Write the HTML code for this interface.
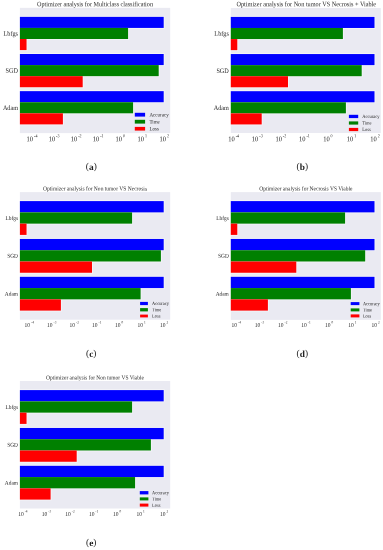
<!DOCTYPE html>
<html lang="en">
<head>
<meta charset="utf-8">
<title>Optimizer analysis</title>
<style>
html,body{margin:0;padding:0;background:#fff;}
body{width:383px;height:550px;overflow:hidden;}
svg{display:block;position:absolute;left:0;top:0;}
text{font-family:"Liberation Serif","DejaVu Serif",serif;fill:#262626;}
.cap{fill:#1a1a1a;}
</style>
</head>
<body>
<svg width="383" height="550" viewBox="0 0 383 550">
<rect x="0" y="0" width="383" height="550" fill="#ffffff"/>
<g id="chart-a">
<rect x="19.9" y="7.85" width="150.3" height="125.25" fill="#eaeaf2"/>
<text transform="translate(95 6.3) rotate(0.03) scale(1 1.09)" font-size="6.15" text-anchor="middle">Optimizer analysis for Multiclass classification</text>
<rect x="19.9" y="15.95" width="144.7" height="12.88" fill="#ffffff" fill-opacity="0.5"/>
<rect x="19.9" y="27.03" width="109.1" height="12.88" fill="#ffffff" fill-opacity="0.5"/>
<rect x="19.9" y="38.11" width="7.55" height="12.88" fill="#ffffff" fill-opacity="0.5"/>
<rect x="19.9" y="53.1" width="144.7" height="12.88" fill="#ffffff" fill-opacity="0.5"/>
<rect x="19.9" y="64.18" width="139.7" height="12.88" fill="#ffffff" fill-opacity="0.5"/>
<rect x="19.9" y="75.26" width="63.7" height="12.88" fill="#ffffff" fill-opacity="0.5"/>
<rect x="19.9" y="90.25" width="144.7" height="12.88" fill="#ffffff" fill-opacity="0.5"/>
<rect x="19.9" y="101.33" width="114.1" height="12.88" fill="#ffffff" fill-opacity="0.5"/>
<rect x="19.9" y="112.41" width="43.9" height="12.88" fill="#ffffff" fill-opacity="0.5"/>
<rect x="19.9" y="16.85" width="143.8" height="11.08" fill="#0000ff"/>
<rect x="19.9" y="27.93" width="108.2" height="11.08" fill="#008000"/>
<rect x="19.9" y="39.01" width="6.65" height="11.08" fill="#ff0000"/>
<text transform="translate(18 35.7) rotate(0.03) scale(1 1.09)" font-size="6.2" text-anchor="end">Lbfgs</text>
<rect x="19.9" y="54" width="143.8" height="11.08" fill="#0000ff"/>
<rect x="19.9" y="65.08" width="138.8" height="11.08" fill="#008000"/>
<rect x="19.9" y="76.16" width="62.8" height="11.08" fill="#ff0000"/>
<text transform="translate(18 72.85) rotate(0.03) scale(1 1.09)" font-size="6.2" text-anchor="end">SGD</text>
<rect x="19.9" y="91.15" width="143.8" height="11.08" fill="#0000ff"/>
<rect x="19.9" y="102.23" width="113.2" height="11.08" fill="#008000"/>
<rect x="19.9" y="113.31" width="43" height="11.08" fill="#ff0000"/>
<text transform="translate(18 110) rotate(0.03) scale(1 1.09)" font-size="6.2" text-anchor="end">Adam</text>
<text transform="translate(32 141.3) rotate(0.03) scale(1 1.09)" font-size="6.5" text-anchor="middle">10<tspan dx="1" dy="-3.7" font-size="4.03">-4</tspan></text>
<text transform="translate(54.05 141.3) rotate(0.03) scale(1 1.09)" font-size="6.5" text-anchor="middle">10<tspan dx="1" dy="-3.7" font-size="4.03">-3</tspan></text>
<text transform="translate(76.1 141.3) rotate(0.03) scale(1 1.09)" font-size="6.5" text-anchor="middle">10<tspan dx="1" dy="-3.7" font-size="4.03">-2</tspan></text>
<text transform="translate(98.15 141.3) rotate(0.03) scale(1 1.09)" font-size="6.5" text-anchor="middle">10<tspan dx="1" dy="-3.7" font-size="4.03">-1</tspan></text>
<text transform="translate(120.2 141.3) rotate(0.03) scale(1 1.09)" font-size="6.5" text-anchor="middle">10<tspan dx="1" dy="-3.7" font-size="4.03">0</tspan></text>
<text transform="translate(142.25 141.3) rotate(0.03) scale(1 1.09)" font-size="6.5" text-anchor="middle">10<tspan dx="1" dy="-3.7" font-size="4.03">1</tspan></text>
<text transform="translate(164.3 141.3) rotate(0.03) scale(1 1.09)" font-size="6.5" text-anchor="middle">10<tspan dx="1" dy="-3.7" font-size="4.03">2</tspan></text>
<rect x="134.8" y="112.8" width="10.3" height="3.8" fill="#0000ff"/>
<text transform="translate(149.4 116.51) rotate(0.03) scale(1 1.09)" font-size="5.04">Accuracy</text>
<rect x="134.8" y="119.8" width="10.3" height="3.8" fill="#008000"/>
<text transform="translate(149.4 123.51) rotate(0.03) scale(1 1.09)" font-size="5.04">Time</text>
<rect x="134.8" y="126.9" width="10.3" height="3.7" fill="#ff0000"/>
<text transform="translate(149.4 130.56) rotate(0.03) scale(1 1.09)" font-size="5.04">Loss</text>
<text class="cap" transform="translate(91.3 170.1) rotate(0.03)" font-size="9.3" text-anchor="middle"><tspan dy="-0.9">(</tspan><tspan dy="0.9" font-weight="bold">a</tspan><tspan dy="-0.9">)</tspan></text>
</g>
<g id="chart-b">
<rect x="230.8" y="7.95" width="150" height="125.05" fill="#eaeaf2"/>
<text transform="translate(306.3 6.3) rotate(0.03) scale(1 1.09)" font-size="6.22" text-anchor="middle">Optimizer analysis for Non tumor VS Necrosis + Viable</text>
<rect x="230.8" y="16" width="144.6" height="12.88" fill="#ffffff" fill-opacity="0.5"/>
<rect x="230.8" y="27.08" width="113" height="12.88" fill="#ffffff" fill-opacity="0.5"/>
<rect x="230.8" y="38.16" width="7.4" height="12.88" fill="#ffffff" fill-opacity="0.5"/>
<rect x="230.8" y="53.15" width="144.6" height="12.88" fill="#ffffff" fill-opacity="0.5"/>
<rect x="230.8" y="64.23" width="131.8" height="12.88" fill="#ffffff" fill-opacity="0.5"/>
<rect x="230.8" y="75.31" width="58.1" height="12.88" fill="#ffffff" fill-opacity="0.5"/>
<rect x="230.8" y="90.3" width="144.6" height="12.88" fill="#ffffff" fill-opacity="0.5"/>
<rect x="230.8" y="101.38" width="116" height="12.88" fill="#ffffff" fill-opacity="0.5"/>
<rect x="230.8" y="112.46" width="31.8" height="12.88" fill="#ffffff" fill-opacity="0.5"/>
<rect x="230.8" y="16.9" width="143.7" height="11.08" fill="#0000ff"/>
<rect x="230.8" y="27.98" width="112.1" height="11.08" fill="#008000"/>
<rect x="230.8" y="39.06" width="6.5" height="11.08" fill="#ff0000"/>
<text transform="translate(228.8 35.75) rotate(0.03) scale(1 1.09)" font-size="6.2" text-anchor="end">Lbfgs</text>
<rect x="230.8" y="54.05" width="143.7" height="11.08" fill="#0000ff"/>
<rect x="230.8" y="65.13" width="130.9" height="11.08" fill="#008000"/>
<rect x="230.8" y="76.21" width="57.2" height="11.08" fill="#ff0000"/>
<text transform="translate(228.8 72.9) rotate(0.03) scale(1 1.09)" font-size="6.2" text-anchor="end">SGD</text>
<rect x="230.8" y="91.2" width="143.7" height="11.08" fill="#0000ff"/>
<rect x="230.8" y="102.28" width="115.1" height="11.08" fill="#008000"/>
<rect x="230.8" y="113.36" width="30.9" height="11.08" fill="#ff0000"/>
<text transform="translate(228.8 110.05) rotate(0.03) scale(1 1.09)" font-size="6.2" text-anchor="end">Adam</text>
<text transform="translate(233.7 141.3) rotate(0.03) scale(1 1.09)" font-size="6.5" text-anchor="middle">10<tspan dx="1" dy="-3.7" font-size="4.03">-4</tspan></text>
<text transform="translate(257.25 141.3) rotate(0.03) scale(1 1.09)" font-size="6.5" text-anchor="middle">10<tspan dx="1" dy="-3.7" font-size="4.03">-3</tspan></text>
<text transform="translate(280.8 141.3) rotate(0.03) scale(1 1.09)" font-size="6.5" text-anchor="middle">10<tspan dx="1" dy="-3.7" font-size="4.03">-2</tspan></text>
<text transform="translate(304.35 141.3) rotate(0.03) scale(1 1.09)" font-size="6.5" text-anchor="middle">10<tspan dx="1" dy="-3.7" font-size="4.03">-1</tspan></text>
<text transform="translate(327.9 141.3) rotate(0.03) scale(1 1.09)" font-size="6.5" text-anchor="middle">10<tspan dx="1" dy="-3.7" font-size="4.03">0</tspan></text>
<text transform="translate(351.45 141.3) rotate(0.03) scale(1 1.09)" font-size="6.5" text-anchor="middle">10<tspan dx="1" dy="-3.7" font-size="4.03">1</tspan></text>
<text transform="translate(375 141.3) rotate(0.03) scale(1 1.09)" font-size="6.5" text-anchor="middle">10<tspan dx="1" dy="-3.7" font-size="4.03">2</tspan></text>
<rect x="348.9" y="114.8" width="9.3" height="3.3" fill="#0000ff"/>
<text transform="translate(362.2 118.07) rotate(0.03) scale(1 1.09)" font-size="4.5">Accuracy</text>
<rect x="348.9" y="121.4" width="9.3" height="3.2" fill="#008000"/>
<text transform="translate(362.2 124.62) rotate(0.03) scale(1 1.09)" font-size="4.5">Time</text>
<rect x="348.9" y="127.9" width="9.3" height="3.2" fill="#ff0000"/>
<text transform="translate(362.2 131.12) rotate(0.03) scale(1 1.09)" font-size="4.5">Loss</text>
<text class="cap" transform="translate(302.3 170.1) rotate(0.03)" font-size="9.3" text-anchor="middle"><tspan dy="-0.9">(</tspan><tspan dy="0.9" font-weight="bold">b</tspan><tspan dy="-0.9">)</tspan></text>
</g>
<g id="chart-c">
<rect x="19.9" y="192.1" width="150.3" height="127.6" fill="#eaeaf2"/>
<text transform="translate(95.05 190.6) rotate(0.03) scale(1 1.09)" font-size="5.54" text-anchor="middle">Optimizer analysis for Non tumor VS Necrosis</text>
<rect x="19.9" y="200.2" width="144.7" height="13.07" fill="#ffffff" fill-opacity="0.5"/>
<rect x="19.9" y="211.47" width="113.1" height="13.07" fill="#ffffff" fill-opacity="0.5"/>
<rect x="19.9" y="222.74" width="7.55" height="13.07" fill="#ffffff" fill-opacity="0.5"/>
<rect x="19.9" y="238.05" width="144.7" height="13.07" fill="#ffffff" fill-opacity="0.5"/>
<rect x="19.9" y="249.32" width="141.9" height="13.07" fill="#ffffff" fill-opacity="0.5"/>
<rect x="19.9" y="260.59" width="73" height="13.07" fill="#ffffff" fill-opacity="0.5"/>
<rect x="19.9" y="275.9" width="144.7" height="13.07" fill="#ffffff" fill-opacity="0.5"/>
<rect x="19.9" y="287.17" width="121.6" height="13.07" fill="#ffffff" fill-opacity="0.5"/>
<rect x="19.9" y="298.44" width="41.9" height="13.07" fill="#ffffff" fill-opacity="0.5"/>
<rect x="19.9" y="201.1" width="143.8" height="11.27" fill="#0000ff"/>
<rect x="19.9" y="212.37" width="112.2" height="11.27" fill="#008000"/>
<rect x="19.9" y="223.64" width="6.65" height="11.27" fill="#ff0000"/>
<text transform="translate(18 219.95) rotate(0.03) scale(1 1.09)" font-size="5.4" text-anchor="end">Lbfgs</text>
<rect x="19.9" y="238.95" width="143.8" height="11.27" fill="#0000ff"/>
<rect x="19.9" y="250.22" width="141" height="11.27" fill="#008000"/>
<rect x="19.9" y="261.49" width="72.1" height="11.27" fill="#ff0000"/>
<text transform="translate(18 257.8) rotate(0.03) scale(1 1.09)" font-size="5.4" text-anchor="end">SGD</text>
<rect x="19.9" y="276.8" width="143.8" height="11.27" fill="#0000ff"/>
<rect x="19.9" y="288.07" width="120.7" height="11.27" fill="#008000"/>
<rect x="19.9" y="299.34" width="41" height="11.27" fill="#ff0000"/>
<text transform="translate(18 295.65) rotate(0.03) scale(1 1.09)" font-size="5.4" text-anchor="end">Adam</text>
<text transform="translate(29.2 327) rotate(0.03) scale(1 1.09)" font-size="5.5" text-anchor="middle">10<tspan dx="1" dy="-3.13" font-size="3.41">-4</tspan></text>
<text transform="translate(51.7 327) rotate(0.03) scale(1 1.09)" font-size="5.5" text-anchor="middle">10<tspan dx="1" dy="-3.13" font-size="3.41">-3</tspan></text>
<text transform="translate(74.2 327) rotate(0.03) scale(1 1.09)" font-size="5.5" text-anchor="middle">10<tspan dx="1" dy="-3.13" font-size="3.41">-2</tspan></text>
<text transform="translate(96.7 327) rotate(0.03) scale(1 1.09)" font-size="5.5" text-anchor="middle">10<tspan dx="1" dy="-3.13" font-size="3.41">-1</tspan></text>
<text transform="translate(119.2 327) rotate(0.03) scale(1 1.09)" font-size="5.5" text-anchor="middle">10<tspan dx="1" dy="-3.13" font-size="3.41">0</tspan></text>
<text transform="translate(141.7 327) rotate(0.03) scale(1 1.09)" font-size="5.5" text-anchor="middle">10<tspan dx="1" dy="-3.13" font-size="3.41">1</tspan></text>
<text transform="translate(164.2 327) rotate(0.03) scale(1 1.09)" font-size="5.5" text-anchor="middle">10<tspan dx="1" dy="-3.13" font-size="3.41">2</tspan></text>
<rect x="140.1" y="301.9" width="7.8" height="3.2" fill="#0000ff"/>
<text transform="translate(152.1 305.08) rotate(0.03) scale(1 1.09)" font-size="4.4">Accuracy</text>
<rect x="140.1" y="308.1" width="7.8" height="3.3" fill="#008000"/>
<text transform="translate(152.1 311.33) rotate(0.03) scale(1 1.09)" font-size="4.4">Time</text>
<rect x="140.1" y="314.6" width="7.8" height="2.8" fill="#ff0000"/>
<text transform="translate(152.1 317.58) rotate(0.03) scale(1 1.09)" font-size="4.4">Loss</text>
<text class="cap" transform="translate(91.2 357.1) rotate(0.03)" font-size="9.3" text-anchor="middle"><tspan dy="-0.9">(</tspan><tspan dy="0.9" font-weight="bold">c</tspan><tspan dy="-0.9">)</tspan></text>
</g>
<g id="chart-d">
<rect x="230.8" y="192.1" width="150" height="127.8" fill="#eaeaf2"/>
<text transform="translate(305.9 190.6) rotate(0.03) scale(1 1.09)" font-size="5.47" text-anchor="middle">Optimizer analysis for Necrosis VS Viable</text>
<rect x="230.8" y="200.2" width="144.6" height="13.07" fill="#ffffff" fill-opacity="0.5"/>
<rect x="230.8" y="211.47" width="115.2" height="13.07" fill="#ffffff" fill-opacity="0.5"/>
<rect x="230.8" y="222.74" width="7.4" height="13.07" fill="#ffffff" fill-opacity="0.5"/>
<rect x="230.8" y="238.05" width="144.6" height="13.07" fill="#ffffff" fill-opacity="0.5"/>
<rect x="230.8" y="249.32" width="135.3" height="13.07" fill="#ffffff" fill-opacity="0.5"/>
<rect x="230.8" y="260.59" width="66.4" height="13.07" fill="#ffffff" fill-opacity="0.5"/>
<rect x="230.8" y="275.9" width="144.6" height="13.07" fill="#ffffff" fill-opacity="0.5"/>
<rect x="230.8" y="287.17" width="121" height="13.07" fill="#ffffff" fill-opacity="0.5"/>
<rect x="230.8" y="298.44" width="38" height="13.07" fill="#ffffff" fill-opacity="0.5"/>
<rect x="230.8" y="201.1" width="143.7" height="11.27" fill="#0000ff"/>
<rect x="230.8" y="212.37" width="114.3" height="11.27" fill="#008000"/>
<rect x="230.8" y="223.64" width="6.5" height="11.27" fill="#ff0000"/>
<text transform="translate(228.8 219.95) rotate(0.03) scale(1 1.09)" font-size="5.4" text-anchor="end">Lbfgs</text>
<rect x="230.8" y="238.95" width="143.7" height="11.27" fill="#0000ff"/>
<rect x="230.8" y="250.22" width="134.4" height="11.27" fill="#008000"/>
<rect x="230.8" y="261.49" width="65.5" height="11.27" fill="#ff0000"/>
<text transform="translate(228.8 257.8) rotate(0.03) scale(1 1.09)" font-size="5.4" text-anchor="end">SGD</text>
<rect x="230.8" y="276.8" width="143.7" height="11.27" fill="#0000ff"/>
<rect x="230.8" y="288.07" width="120.1" height="11.27" fill="#008000"/>
<rect x="230.8" y="299.34" width="37.1" height="11.27" fill="#ff0000"/>
<text transform="translate(228.8 295.65) rotate(0.03) scale(1 1.09)" font-size="5.4" text-anchor="end">Adam</text>
<text transform="translate(236.2 327) rotate(0.03) scale(1 1.09)" font-size="5.5" text-anchor="middle">10<tspan dx="1" dy="-3.13" font-size="3.41">-4</tspan></text>
<text transform="translate(259.45 327) rotate(0.03) scale(1 1.09)" font-size="5.5" text-anchor="middle">10<tspan dx="1" dy="-3.13" font-size="3.41">-3</tspan></text>
<text transform="translate(282.7 327) rotate(0.03) scale(1 1.09)" font-size="5.5" text-anchor="middle">10<tspan dx="1" dy="-3.13" font-size="3.41">-2</tspan></text>
<text transform="translate(305.95 327) rotate(0.03) scale(1 1.09)" font-size="5.5" text-anchor="middle">10<tspan dx="1" dy="-3.13" font-size="3.41">-1</tspan></text>
<text transform="translate(329.2 327) rotate(0.03) scale(1 1.09)" font-size="5.5" text-anchor="middle">10<tspan dx="1" dy="-3.13" font-size="3.41">0</tspan></text>
<text transform="translate(352.45 327) rotate(0.03) scale(1 1.09)" font-size="5.5" text-anchor="middle">10<tspan dx="1" dy="-3.13" font-size="3.41">1</tspan></text>
<text transform="translate(375.7 327) rotate(0.03) scale(1 1.09)" font-size="5.5" text-anchor="middle">10<tspan dx="1" dy="-3.13" font-size="3.41">2</tspan></text>
<rect x="350.7" y="302.1" width="8.7" height="3" fill="#0000ff"/>
<text transform="translate(362.9 305.18) rotate(0.03) scale(1 1.09)" font-size="4.4">Accuracy</text>
<rect x="350.7" y="308.4" width="8.7" height="3" fill="#008000"/>
<text transform="translate(362.9 311.48) rotate(0.03) scale(1 1.09)" font-size="4.4">Time</text>
<rect x="350.7" y="314.4" width="8.7" height="3" fill="#ff0000"/>
<text transform="translate(362.9 317.48) rotate(0.03) scale(1 1.09)" font-size="4.4">Loss</text>
<text class="cap" transform="translate(302.3 357.1) rotate(0.03)" font-size="9.3" text-anchor="middle"><tspan dy="-0.9">(</tspan><tspan dy="0.9" font-weight="bold">d</tspan><tspan dy="-0.9">)</tspan></text>
</g>
<g id="chart-e">
<rect x="19.9" y="381" width="150.3" height="127.5" fill="#eaeaf2"/>
<text transform="translate(95 379.6) rotate(0.03) scale(1 1.09)" font-size="5.47" text-anchor="middle">Optimizer analysis for Non tumor VS Viable</text>
<rect x="19.9" y="389.2" width="144.7" height="13.07" fill="#ffffff" fill-opacity="0.5"/>
<rect x="19.9" y="400.47" width="113.1" height="13.07" fill="#ffffff" fill-opacity="0.5"/>
<rect x="19.9" y="411.74" width="7.55" height="13.07" fill="#ffffff" fill-opacity="0.5"/>
<rect x="19.9" y="427.05" width="144.7" height="13.07" fill="#ffffff" fill-opacity="0.5"/>
<rect x="19.9" y="438.32" width="131.9" height="13.07" fill="#ffffff" fill-opacity="0.5"/>
<rect x="19.9" y="449.59" width="57.7" height="13.07" fill="#ffffff" fill-opacity="0.5"/>
<rect x="19.9" y="464.9" width="144.7" height="13.07" fill="#ffffff" fill-opacity="0.5"/>
<rect x="19.9" y="476.17" width="116.1" height="13.07" fill="#ffffff" fill-opacity="0.5"/>
<rect x="19.9" y="487.44" width="31.6" height="13.07" fill="#ffffff" fill-opacity="0.5"/>
<rect x="19.9" y="390.1" width="143.8" height="11.27" fill="#0000ff"/>
<rect x="19.9" y="401.37" width="112.2" height="11.27" fill="#008000"/>
<rect x="19.9" y="412.64" width="6.65" height="11.27" fill="#ff0000"/>
<text transform="translate(18 408.95) rotate(0.03) scale(1 1.09)" font-size="5.4" text-anchor="end">Lbfgs</text>
<rect x="19.9" y="427.95" width="143.8" height="11.27" fill="#0000ff"/>
<rect x="19.9" y="439.22" width="131" height="11.27" fill="#008000"/>
<rect x="19.9" y="450.49" width="56.8" height="11.27" fill="#ff0000"/>
<text transform="translate(18 446.8) rotate(0.03) scale(1 1.09)" font-size="5.4" text-anchor="end">SGD</text>
<rect x="19.9" y="465.8" width="143.8" height="11.27" fill="#0000ff"/>
<rect x="19.9" y="477.07" width="115.2" height="11.27" fill="#008000"/>
<rect x="19.9" y="488.34" width="30.7" height="11.27" fill="#ff0000"/>
<text transform="translate(18 484.65) rotate(0.03) scale(1 1.09)" font-size="5.4" text-anchor="end">Adam</text>
<text transform="translate(22.9 515.9) rotate(0.03) scale(1 1.09)" font-size="5.5" text-anchor="middle">10<tspan dx="1" dy="-3.13" font-size="3.41">-4</tspan></text>
<text transform="translate(46.45 515.9) rotate(0.03) scale(1 1.09)" font-size="5.5" text-anchor="middle">10<tspan dx="1" dy="-3.13" font-size="3.41">-3</tspan></text>
<text transform="translate(70 515.9) rotate(0.03) scale(1 1.09)" font-size="5.5" text-anchor="middle">10<tspan dx="1" dy="-3.13" font-size="3.41">-2</tspan></text>
<text transform="translate(93.55 515.9) rotate(0.03) scale(1 1.09)" font-size="5.5" text-anchor="middle">10<tspan dx="1" dy="-3.13" font-size="3.41">-1</tspan></text>
<text transform="translate(117.1 515.9) rotate(0.03) scale(1 1.09)" font-size="5.5" text-anchor="middle">10<tspan dx="1" dy="-3.13" font-size="3.41">0</tspan></text>
<text transform="translate(140.65 515.9) rotate(0.03) scale(1 1.09)" font-size="5.5" text-anchor="middle">10<tspan dx="1" dy="-3.13" font-size="3.41">1</tspan></text>
<text transform="translate(164.2 515.9) rotate(0.03) scale(1 1.09)" font-size="5.5" text-anchor="middle">10<tspan dx="1" dy="-3.13" font-size="3.41">2</tspan></text>
<rect x="139.8" y="491.1" width="8.6" height="3.3" fill="#0000ff"/>
<text transform="translate(152.1 494.33) rotate(0.03) scale(1 1.09)" font-size="4.4">Accuracy</text>
<rect x="139.8" y="497.4" width="8.6" height="3" fill="#008000"/>
<text transform="translate(152.1 500.48) rotate(0.03) scale(1 1.09)" font-size="4.4">Time</text>
<rect x="139.8" y="503.6" width="8.6" height="3" fill="#ff0000"/>
<text transform="translate(152.1 506.68) rotate(0.03) scale(1 1.09)" font-size="4.4">Loss</text>
<text class="cap" transform="translate(91.2 546.1) rotate(0.03)" font-size="9.3" text-anchor="middle"><tspan dy="-0.9">(</tspan><tspan dy="0.9" font-weight="bold">e</tspan><tspan dy="-0.9">)</tspan></text>
</g>
</svg>
</body>
</html>
